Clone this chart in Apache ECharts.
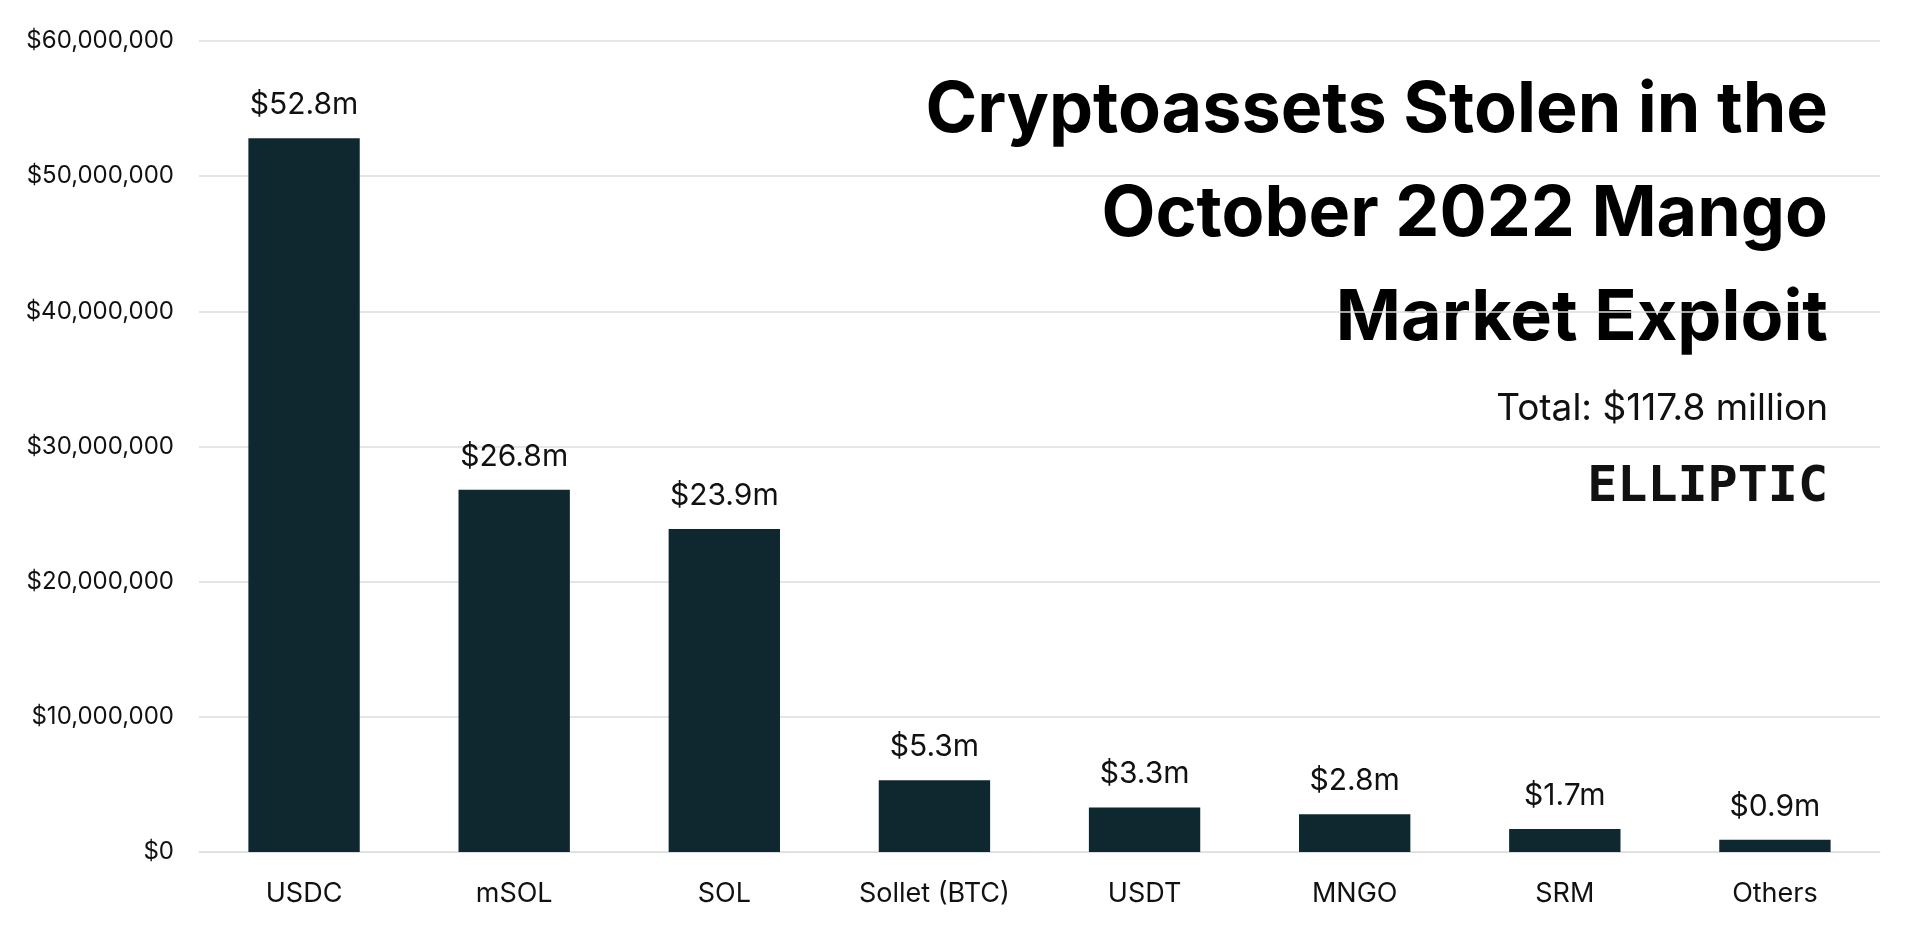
<!DOCTYPE html><html><head><meta charset="utf-8"><script src="https://cdn.jsdelivr.net/npm/echarts@6/dist/echarts.min.js"></script><style>html,body{margin:0;background:#fff}#c{width:1920px;height:935px}</style></head><body><div id="c"></div><script>
const categories=["USDC","mSOL","SOL","Sollet (BTC)","USDT","MNGO","SRM","Others"];
const values=[52800000,26800000,23900000,5300000,3300000,2800000,1700000,900000];
const barLabels=["$52.8m","$26.8m","$23.9m","$5.3m","$3.3m","$2.8m","$1.7m","$0.9m"];
const titleLines=["Cryptoassets Stolen in the","October 2022 Mango","Market Exploit"];
const subtitle="Total: $117.8 million";
const brand="ELLIPTIC";
const F='Inter, "Noto Sans", sans-serif';
const chart=echarts.init(document.getElementById('c'));
chart.setOption({
 animation:false,
 grid:{left:199,right:40,top:41,bottom:83},
 xAxis:{type:'category',data:categories,axisLine:{lineStyle:{color:'#ddd'}},axisTick:{show:false},
  axisLabel:{color:'#111',fontSize:27,fontFamily:F,margin:28}},
 yAxis:{type:'value',min:0,max:60000000,interval:10000000,
  axisLabel:{color:'#111',fontSize:24,fontFamily:F,margin:25,formatter:v=>'$'+v.toLocaleString('en-US')},
  splitLine:{lineStyle:{color:'#ddd',width:1.5}}},
 series:[{type:'bar',data:values,barWidth:'53%',itemStyle:{color:'#0f2830'},
  label:{show:true,position:'top',distance:18,fontSize:30,color:'#111',fontFamily:F,formatter:p=>barLabels[p.dataIndex]}}],
 graphic:[
  ...titleLines.map((t,i)=>({type:'text',right:92,top:76+i*104,style:{text:t,font:'700 70px '+F,fill:'#000',textAlign:'right'}})),
  {type:'text',right:92,top:390,style:{text:subtitle,font:'400 37px '+F,fill:'#111'}},
  {type:'text',right:92,top:463,style:{text:brand,font:'900 50px "DejaVu Sans Mono", monospace',fill:'#111'}}
 ]
});
</script></body></html>
